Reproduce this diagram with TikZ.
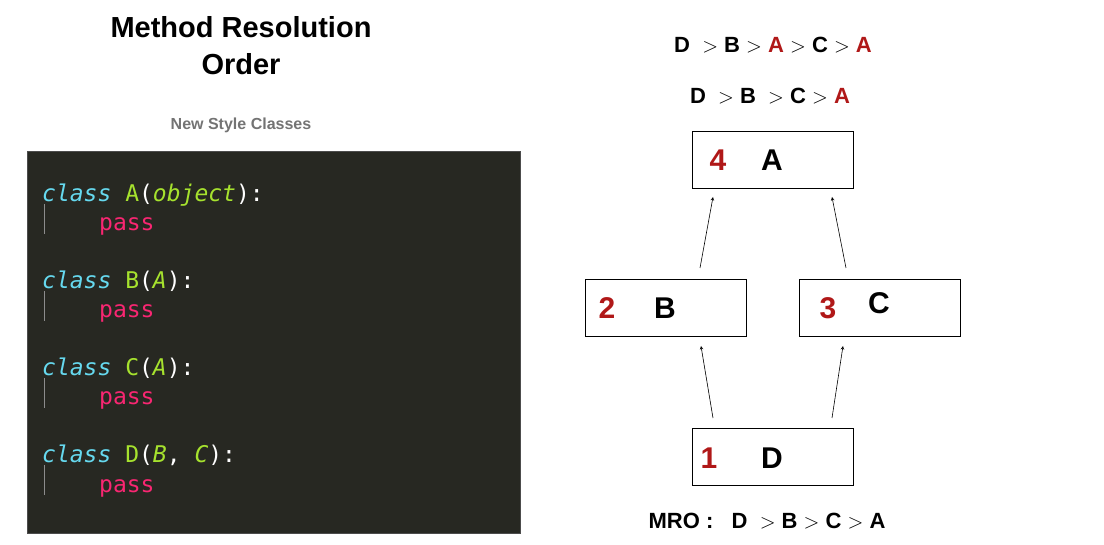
\documentclass[tikz,border=0pt]{standalone}
\usepackage{fontspec}
\setmainfont{Liberation Sans}
\newfontfamily\codefont{DejaVu Sans Mono}
\definecolor{bgc}{HTML}{272822}
\definecolor{kw}{HTML}{66D9EF}
\definecolor{gr}{HTML}{A6E22E}
\definecolor{pk}{HTML}{F92672}
\definecolor{rd}{HTML}{B01818}
\begin{document}
\begin{tikzpicture}[x=1pt,y=-1pt,
  lbl/.style={font=\bfseries\fontsize{22}{24}\selectfont, anchor=base},
  num/.style={font=\bfseries\fontsize{30}{32}\selectfont, text=rd},
  let/.style={font=\bfseries\fontsize{30}{32}\selectfont},
  cls/.style={draw=black, line width=0.8pt, minimum width=161pt, minimum height=57pt, inner sep=0pt},
  code/.style={font=\codefont\fontsize{23}{25}\selectfont, anchor=base west, inner sep=0pt},
  arr/.style={-stealth, line width=0.6pt}]
\useasboundingbox (0,0) rectangle (1104,545);
\node[font=\bfseries\fontsize{29}{37}\selectfont, align=center] (title) at (241,46) {Method Resolution\\Order};
\node[font=\bfseries\fontsize{16}{18}\selectfont, text=black!55] (sub) at (241,125) {New Style Classes};
\node[fill=bgc, draw=black!70, minimum width=493pt, minimum height=382pt, inner sep=0pt, anchor=north west] (codebox) at (27,151) {};
\foreach \y in {194,281,368,455}{\draw[black!45, line width=0.5pt] (44,\y+10) -- (44,\y+40);}
\node[code] (c1) at (42,202) {\textcolor{kw}{\itshape class} \textcolor{gr}{A}\textcolor{white}{(}\textcolor{gr}{\itshape object}\textcolor{white}{):}};
\node[code] (p1) at (99,231) {\textcolor{pk}{pass}};
\node[code] (c2) at (42,289) {\textcolor{kw}{\itshape class} \textcolor{gr}{B}\textcolor{white}{(}\textcolor{gr}{\itshape A}\textcolor{white}{):}};
\node[code] (p2) at (99,318) {\textcolor{pk}{pass}};
\node[code] (c3) at (42,376) {\textcolor{kw}{\itshape class} \textcolor{gr}{C}\textcolor{white}{(}\textcolor{gr}{\itshape A}\textcolor{white}{):}};
\node[code] (p3) at (99,405) {\textcolor{pk}{pass}};
\node[code] (c4) at (42,463) {\textcolor{kw}{\itshape class} \textcolor{gr}{D}\textcolor{white}{(}\textcolor{gr}{\itshape B}\textcolor{white}{, }\textcolor{gr}{\itshape C}\textcolor{white}{):}};
\node[code] (p4) at (99,493) {\textcolor{pk}{pass}};
% MRO lines
\node[lbl] (l1) at (773,53) {D\ \ $>$ B $>$ \textcolor{rd}{A} $>$ C $>$ \textcolor{rd}{A}};
\node[lbl] (l2) at (770,104) {D\ \ $>$ B\ \ $>$ C $>$ \textcolor{rd}{A}};
\node[lbl] (l3) at (767,528) {MRO :\ \ \ D\ \ $>$ B $>$ C $>$ A};
% boxes
\node[cls] (A) at (772.5,159.5) {};
\node[cls] (B) at (665.5,308) {};
\node[cls] (C) at (879.5,308) {};
\node[cls] (D) at (772.5,456.5) {};
\node[num] (n4) at (718,160) {4}; \node[let] (tA) at (772,160) {A};
\node[num] (n2) at (607,308) {2}; \node[let] (tB) at (665,308) {B};
\node[num] (n3) at (828,308) {3}; \node[let] (tC) at (879,303) {C};
\node[num] (n1) at (709,458) {1}; \node[let] (tD) at (772,458) {D};
\coordinate (d1) at (713,418); \coordinate (b1) at (701,346);
\coordinate (d2) at (832,418); \coordinate (cc1) at (843,346);
\coordinate (b2) at (700,268); \coordinate (a1) at (713,197);
\coordinate (cc2) at (846,268); \coordinate (a2) at (832,197);
\draw[arr] (d1) -- (b1); \draw[arr] (d2) -- (cc1);
\draw[arr] (b2) -- (a1); \draw[arr] (cc2) -- (a2);
\end{tikzpicture}
\end{document}
